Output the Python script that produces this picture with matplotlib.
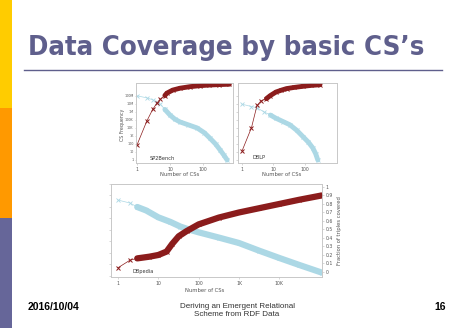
import matplotlib
matplotlib.use('Agg')
import matplotlib.pyplot as plt
from matplotlib.patches import Rectangle
from matplotlib.lines import Line2D

W, H = 474, 328

# --- values ---
# SP2Bench: coverage (right axis) and CS frequency (left, log) vs number of CSs
sp_cx = [1, 2, 3, 4, 5, 7, 8, 12, 20, 40, 80, 150, 300, 630]
sp_cov = [0.205, 0.52, 0.67, 0.75, 0.80, 0.85, 0.88, 0.92, 0.945, 0.965, 0.978, 0.986, 0.992, 0.997]
sp_fx = [1, 2, 3, 4, 5, 7, 10, 14, 20, 35, 66, 110, 160, 240, 330, 430, 540]
sp_freq = [1.0e8, 5.6e7, 3.2e7, 1.6e7, 1.0e7, 2.0e6, 4.0e5, 1.26e5, 5.6e4, 2.5e4,
           1.0e4, 2.5e3, 560, 100, 18, 4, 1]

# DBLP
db_cx = [1, 2, 3, 4, 6, 8, 12, 18, 26, 45, 87, 160, 300]
db_cov = [0.126, 0.43, 0.72, 0.78, 0.81, 0.85, 0.895, 0.92, 0.94, 0.955, 0.97, 0.982, 0.99]
db_fx = [1, 2, 3, 5, 8, 12, 20, 33, 55, 87, 130, 178, 220, 257]
db_freq = [9.1e6, 4.6e6, 3.2e6, 1.0e6, 4.0e5, 1.6e5, 6.3e4, 2.5e4, 5.0e3, 800, 160, 32, 6, 1]

# DBpedia
dp_cx = [1, 2, 3, 6, 10, 16, 22, 32, 50, 100, 316, 1000, 3160, 10000, 31600, 112000]
dp_cov = [0.05, 0.14, 0.16, 0.18, 0.20, 0.24, 0.33, 0.42, 0.48, 0.56, 0.64, 0.70,
          0.75, 0.80, 0.85, 0.90]
dp_fx = [1, 2, 3, 5, 10, 20, 35, 63, 100, 316, 1000, 3160, 10000, 31600, 112000]
dp_freq = [4.0e6, 2.2e6, 1.0e6, 5.0e5, 1.26e5, 5.0e4, 2.0e4, 1.0e4, 6.3e3, 2.2e3,
           740, 160, 37, 9, 2]

freq_ticks = [1, 10, 100, 1e3, 1e4, 1e5, 1e6, 1e7, 1e8]
freq_labels = ['1', '10', '100', '1K', '10K', '100K', '1M', '10M', '100M']
top_xticks = [1, 10, 100]
top_xlabels = ['1', '10', '100']
big_xticks = [1, 10, 100, 1000, 10000]
big_xlabels = ['1', '10', '100', '1K', '10K']
cov_ticks = [0, 0.1, 0.2, 0.3, 0.4, 0.5, 0.6, 0.7, 0.8, 0.9, 1]
cov_labels = ['0', '0.1', '0.2', '0.3', '0.4', '0.5', '0.6', '0.7', '0.8', '0.9', '1']

RED = '#8b1c1c'
BLUE = '#acd8e5'
GRID = '#c8c8c8'
TXT = '#555555'
SLIDE = '#5f5f8c'

plt.rcParams['font.family'] = ['DejaVu Sans']
fig = plt.figure(figsize=(W / 100, H / 100), dpi=100)


def box(x0, y0, x1, y1):
    return [x0 / W, 1 - y1 / H, (x1 - x0) / W, (y1 - y0) / H]


def style(ax):
    for s in ax.spines.values():
        s.set_color(GRID)
        s.set_linewidth(0.6)
    ax.tick_params(colors=GRID, labelcolor=TXT, labelsize=3.3, length=1.5,
                   width=0.5, pad=1.2)
    ax.tick_params(which='minor', length=0)


def panel(rect, fx, freq, cx, cov, xlim, flim, clim, band, lw, name, nxy):
    ax = fig.add_axes(rect)
    ax.set_xscale('log')
    ax.set_yscale('log')
    ax.plot(fx, freq, color=BLUE, lw=0.5, marker='x', ms=2.5, mew=0.6)
    bx = [a for a in fx if a >= band]
    by = [b for a, b in zip(fx, freq) if a >= band]
    ax.plot(bx, by, color=BLUE, lw=lw, solid_capstyle='round')
    ax.set_xlim(*xlim)
    ax.set_ylim(*flim)
    style(ax)
    ax2 = ax.twinx()
    ax2.plot(cx, cov, color=RED, lw=0.5, marker='x', ms=2.5, mew=0.7)
    bx = [a for a in cx if a >= band]
    by = [b for a, b in zip(cx, cov) if a >= band]
    ax2.plot(bx, by, color=RED, lw=lw, solid_capstyle='round')
    ax2.set_ylim(*clim)
    style(ax2)
    ax.text(nxy[0], nxy[1], name, transform=ax.transAxes, fontsize=3.6,
            color='#333333', ha='left', va='center')
    return ax, ax2


# SP2Bench
a1, b1 = panel(box(136, 83, 233, 163), sp_fx, sp_freq, sp_cx, sp_cov,
               (10 ** -0.03, 10 ** 2.91), (10 ** -0.375, 10 ** 9.6), (-0.03, 1.013),
               6, 3.5, 'SP2Bench', (0.14, 0.05))
a1.set_yticks(freq_ticks)
a1.set_yticklabels(freq_labels)
a1.tick_params(axis='y', labelsize=2.4, pad=0.8, length=1)
a1.set_xticks(top_xticks)
a1.set_xticklabels(top_xlabels)
b1.set_yticks([])

# DBLP
a2, b2 = panel(box(238, 83, 337, 163), db_fx, db_freq, db_cx, db_cov,
               (10 ** -0.127, 10 ** 3.02), (10 ** -0.375, 10 ** 9.6), (-0.03, 1.013),
               6, 3.5, 'DBLP', (0.15, 0.07))
a2.set_yticks(freq_ticks)
a2.set_yticklabels([])
a2.set_xticks(top_xticks)
a2.set_xticklabels(top_xlabels)
b2.set_yticks([])

# DBpedia
a3, b3 = panel(box(111, 184, 322, 277), dp_fx, dp_freq, dp_cx, dp_cov,
               (10 ** -0.174, 10 ** 5.06), (10 ** -0.087, 10 ** 8), (-0.059, 1.035),
               3, 4.5, 'DBpedia', (0.1, 0.06))
a3.set_yticks(freq_ticks)
a3.set_yticklabels([])
a3.set_xticks(big_xticks)
a3.set_xticklabels(big_xlabels)
b3.set_yticks(cov_ticks)
b3.set_yticklabels(cov_labels)

fig.text(180 / W, 1 - 174 / H, 'Number of CSs', fontsize=3.8, color=TXT, ha='center', va='center')
fig.text(282 / W, 1 - 174 / H, 'Number of CSs', fontsize=3.8, color=TXT, ha='center', va='center')
fig.text(205 / W, 1 - 290 / H, 'Number of CSs', fontsize=3.8, color=TXT, ha='center', va='center')
fig.text(122 / W, 1 - 125 / H, 'CS Frequency', fontsize=3.4, color=TXT, rotation=90,
         ha='center', va='center')
fig.text(340 / W, 1 - 231 / H, 'Fraction of triples covered', fontsize=3.8, color=TXT,
         rotation=90, ha='center', va='center')

# slide decoration: coloured strip on the left, title and rule
for y0, y1, c in [(0, 108, '#ffcc00'), (108, 218, '#ff9900'), (218, 328, '#666699')]:
    fig.add_artist(Rectangle((0, 1 - y1 / H), 12 / W, (y1 - y0) / H,
                             transform=fig.transFigure, color=c, lw=0))
fig.add_artist(Line2D([24 / W, 442 / W], [1 - 69.5 / H, 1 - 69.5 / H],
                      transform=fig.transFigure, color=SLIDE, lw=1))

title = fig.text(28 / W, 1 - 55 / H, 'Data Coverage by basic CS\u2019s', fontsize=18,
                 fontweight='bold', fontstretch='condensed', color=SLIDE,
                 ha='left', va='baseline')
fig.canvas.draw()
ext = title.get_window_extent()
title.set_fontsize(18 * 397 / ext.width)

fig.text(28 / W, 1 - 307 / H, '2016/10/04', fontsize=7.5, fontweight='bold',
         family='Liberation Sans', ha='left', va='center')
fig.text(440 / W, 1 - 307 / H, '16', fontsize=7.5, fontweight='bold',
         family='Liberation Sans', ha='center', va='center')
fig.text(237 / W, 1 - 311 / H, 'Deriving an Emergent Relational\nScheme from RDF Data',
         fontsize=5.8, family='Liberation Sans', color='#333333', ha='center',
         va='center', linespacing=1.2)

fig.savefig('out.png', dpi=100)
